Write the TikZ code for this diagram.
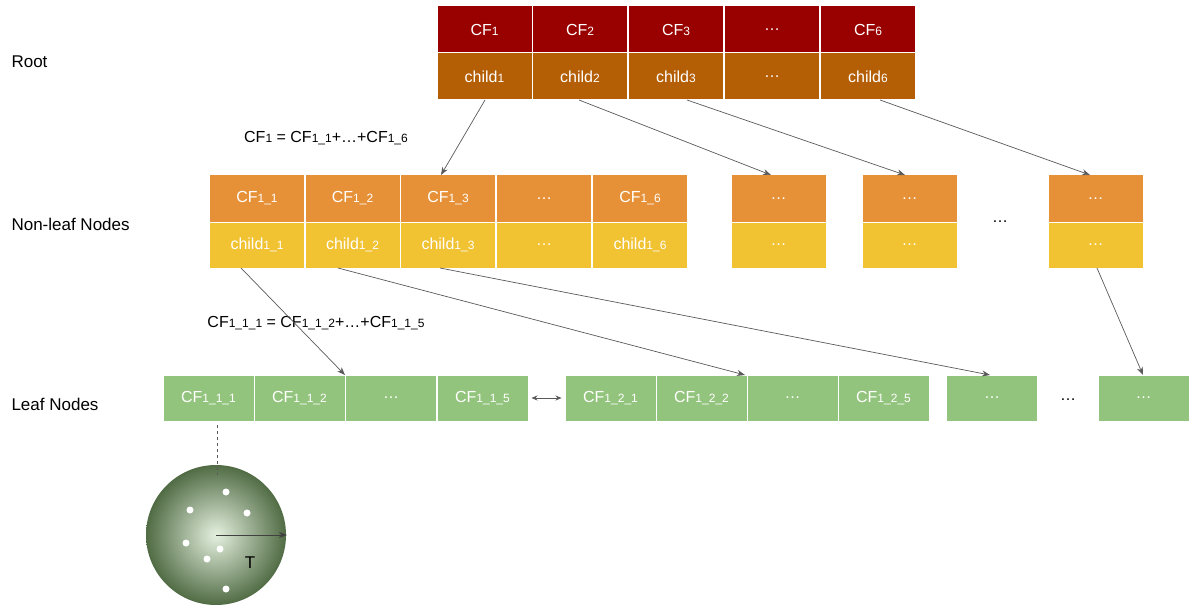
\documentclass[tikz,border=0pt]{standalone}
\usepackage{fontspec}
\setmainfont{Liberation Sans}
\usetikzlibrary{arrows.meta}
\definecolor{rootA}{HTML}{990000}
\definecolor{rootB}{HTML}{B45F06}
\definecolor{nlA}{HTML}{E69138}
\definecolor{nlB}{HTML}{F1C232}
\definecolor{leafC}{HTML}{93C47D}
\definecolor{ln}{HTML}{595959}
\newcommand{\smsub}[1]{{\fontsize{12}{12}\selectfont #1}}
\begin{document}
\begin{tikzpicture}[x=1pt,y=-1pt,
  cell/.style={draw=white,line width=1pt,text=white,font=\fontsize{16}{16}\selectfont,inner sep=0pt},
  lab/.style={anchor=west,font=\fontsize{17}{17}\selectfont},
  conn/.style={draw=ln,line width=0.7pt,-{Stealth[length=8pt,width=6pt]}}]
\useasboundingbox (0,0) rectangle (1200,615);
% root
\foreach \n/\x/\a/\b in {r1/484.5/CF\smsub{1}/child\smsub{1},r2/580/CF\smsub{2}/child\smsub{2},r3/676/CF\smsub{3}/child\smsub{3},r4/772/…/…,r6/868/CF\smsub{6}/child\smsub{6}}{
  \node[cell,fill=rootA,minimum width=95pt,minimum height=47pt] (\n a) at (\x,29.5) {\a};
  \node[cell,fill=rootB,minimum width=95pt,minimum height=47pt] (\n b) at (\x,76.5) {\b};
}
% non-leaf
\foreach \n/\x/\a/\b in {n1/257/CF\smsub{1\_1}/child\smsub{1\_1},n2/352.5/CF\smsub{1\_2}/child\smsub{1\_2},n3/448/CF\smsub{1\_3}/child\smsub{1\_3},n4/544/…/…,n6/640/CF\smsub{1\_6}/child\smsub{1\_6},m1/778.5/…/…,m2/909.5/…/…,m3/1095.5/…/…}{
  \node[cell,fill=nlA,minimum width=95pt,minimum height=47pt] (\n a) at (\x,198.5) {\a};
  \node[cell,fill=nlB,minimum width=95pt,minimum height=46pt] (\n b) at (\x,245) {\b};
}
\node[font=\fontsize{16}{16}\selectfont] (d1) at (1000,222) {…};
% leaf
\foreach \n/\x/\a in {l1/208.5/CF\smsub{1\_1\_1},l2/299.5/CF\smsub{1\_1\_2},l3/391/…,l5/482.5/CF\smsub{1\_1\_5},k1/610.5/CF\smsub{1\_2\_1},k2/701.5/CF\smsub{1\_2\_2},k3/792.5/…,k5/883.5/CF\smsub{1\_2\_5},j1/992/…,j2/1143.5/…}{
  \node[cell,fill=leafC,minimum width=91pt,minimum height=46pt] (\n) at (\x,398) {\a};
}
\node[font=\fontsize{16}{16}\selectfont] (d2) at (1068,400) {…};
% labels
\node[lab] (tr) at (8,62) {Root};
\node[lab] (tn) at (8,224) {Non-leaf Nodes};
\node[lab] (tl) at (8,404) {Leaf Nodes};
\node[font=\fontsize{16}{16}\selectfont] (f1) at (326,138) {CF\smsub{1} = CF\smsub{1\_1}+…+CF\smsub{1\_6}};
\node[font=\fontsize{16}{16}\selectfont] (f2) at (316,323) {CF\smsub{1\_1\_1} = CF\smsub{1\_1\_2}+…+CF\smsub{1\_1\_5}};
% connectors
\coordinate (s1) at (485,100); \coordinate (s2) at (579,100);
\coordinate (s3) at (687,100); \coordinate (s4) at (880,100);
\coordinate (e1) at (441,175); \coordinate (e2) at (771,175);
\coordinate (e3) at (905,175); \coordinate (e4) at (1090,175);
\draw[conn] (s1) -- (e1);
\draw[conn] (s2) -- (e2);
\draw[conn] (s3) -- (e3);
\draw[conn] (s4) -- (e4);
\coordinate (t1) at (241,268); \coordinate (t2) at (338,268);
\coordinate (t3) at (440,268); \coordinate (t4) at (1097,268);
\coordinate (g1) at (345,375); \coordinate (g2) at (745,375);
\coordinate (g3) at (990,375); \coordinate (g4) at (1143,375);
\draw[conn] (t1) -- (g1);
\draw[conn] (t2) -- (g2);
\draw[conn] (t3) -- (g3);
\draw[conn] (t4) -- (g4);
\draw[draw=ln,line width=0.7pt,{Stealth[length=6pt,width=5pt]}-{Stealth[length=6pt,width=5pt]}] ([xshift=3pt]l5.east) -- ([xshift=-3pt]k1.west);
% sphere
\shade[inner color=leafC!25!white, outer color=leafC!55!black] (216,535) circle (70);
\coordinate (sc) at (216,535);
\coordinate (tip) at (287,535);
\draw[dashed,line width=0.7pt,ln] (217,425) -- (217,475);
\foreach \x/\y in {226/492,190/510,247/513,186/543,220/549,207/559,226/589}
  \fill[white] (\x,\y) circle (3.5);
\draw[conn,draw=black!75] (sc) -- (tip);
\node[font=\fontsize{17}{17}\selectfont] (T) at (250,563) {T};
\end{tikzpicture}
\end{document}
